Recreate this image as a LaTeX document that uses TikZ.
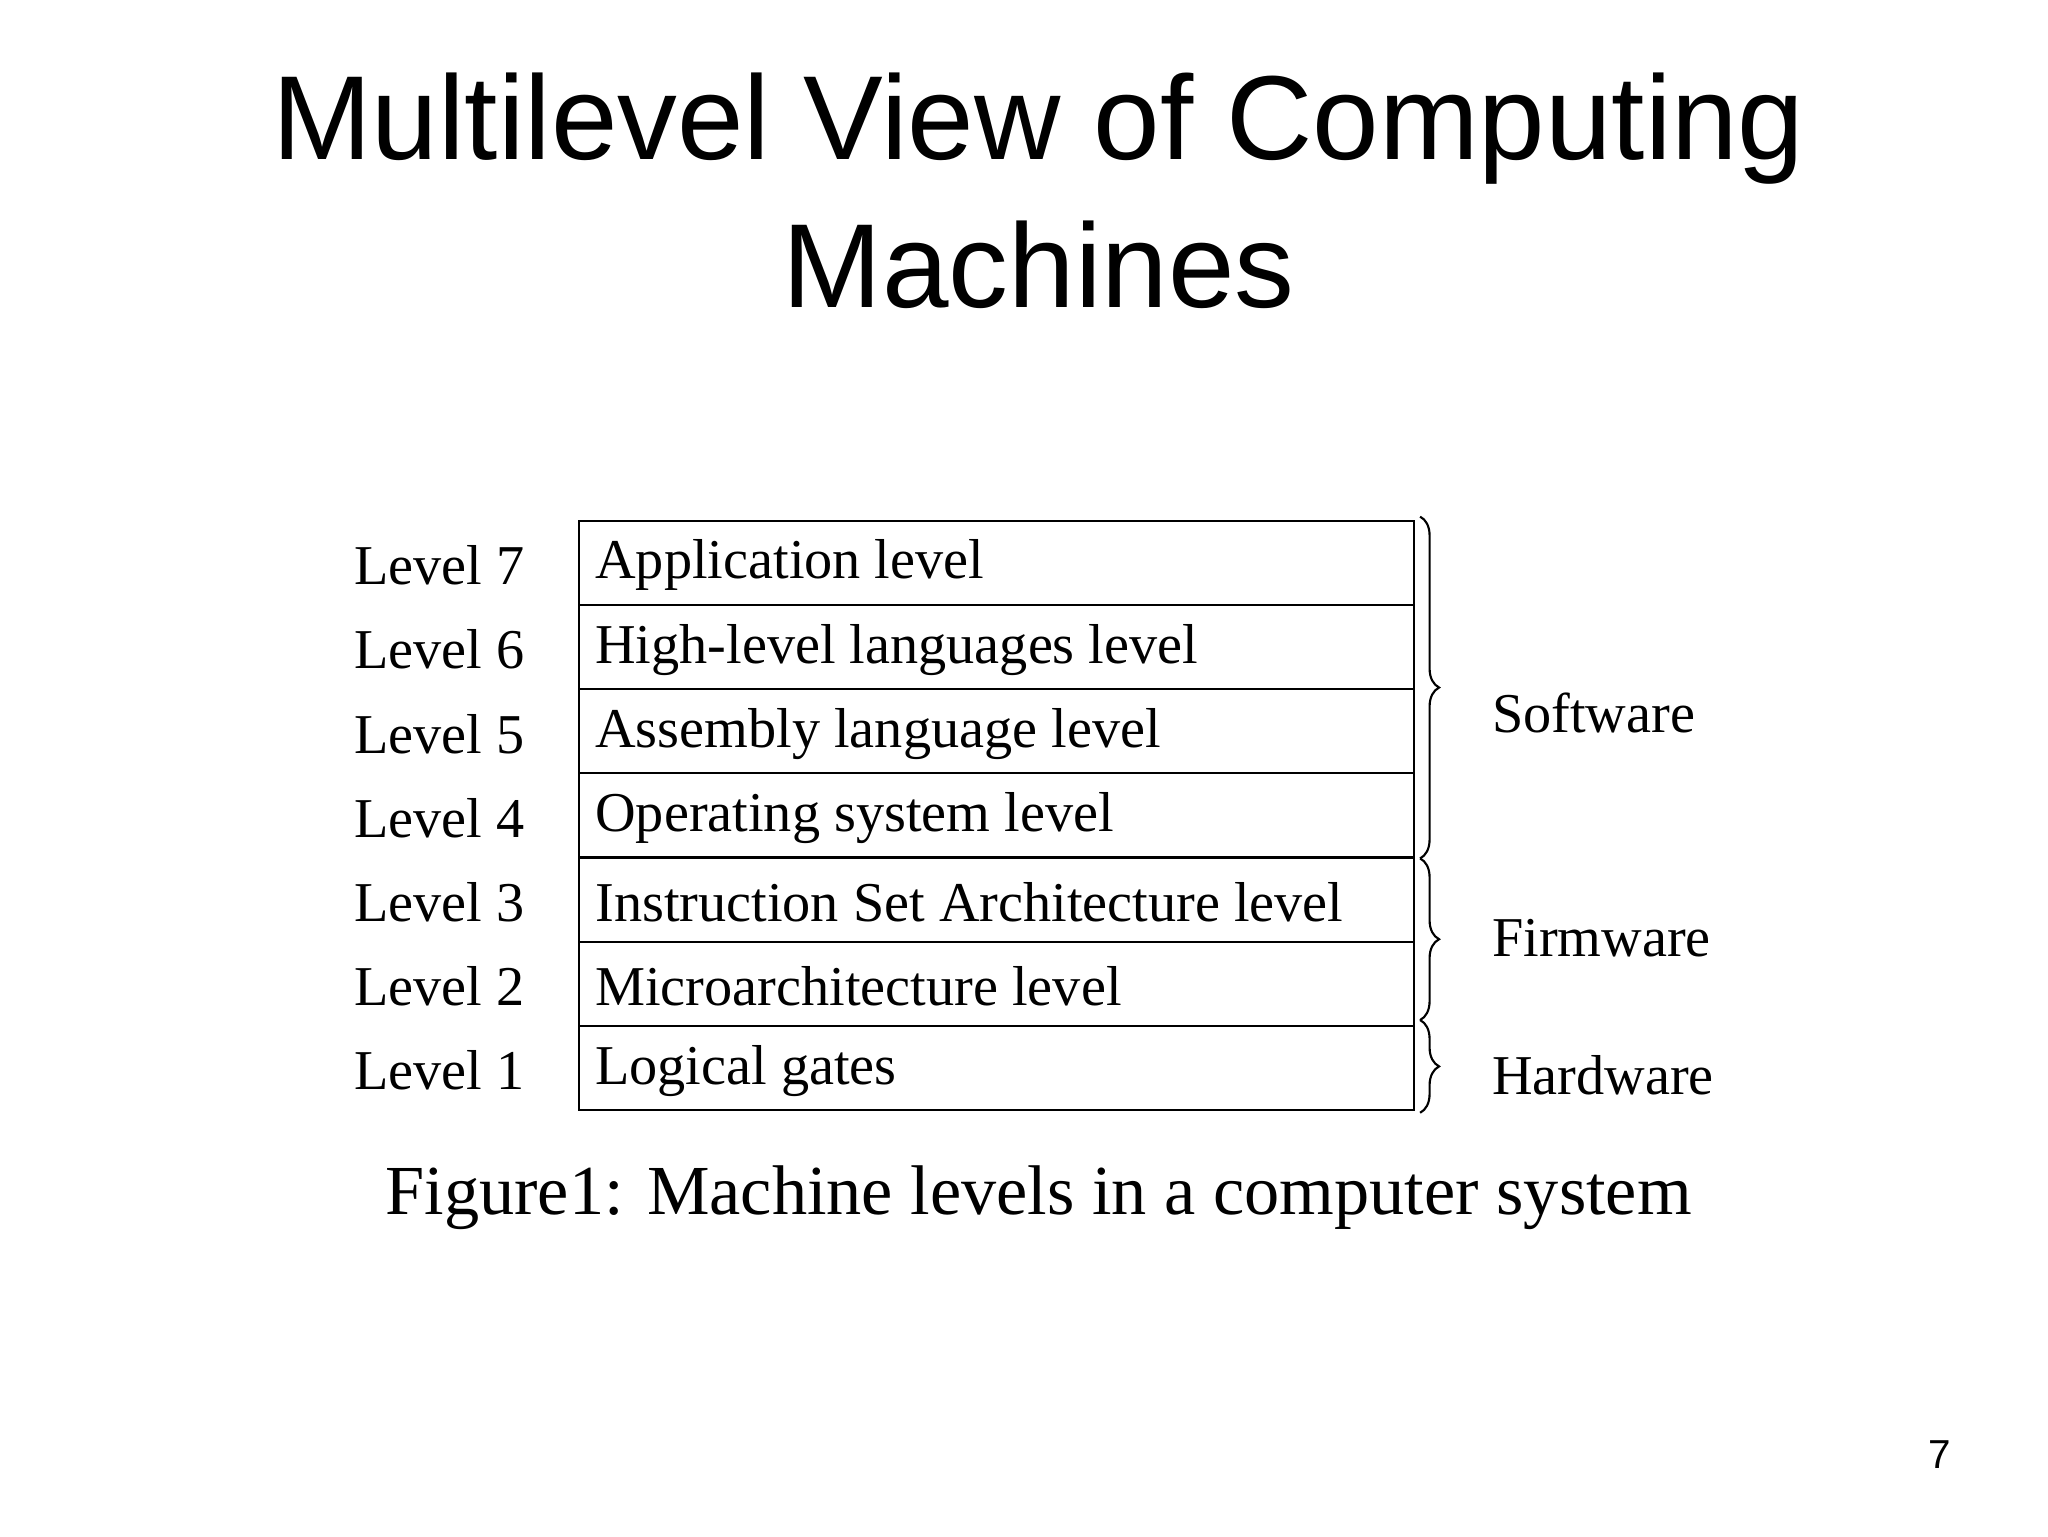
\documentclass[tikz,border=0pt]{standalone}
\usepackage{fontspec}
\setmainfont{Liberation Serif}
\newfontfamily\arialf{Liberation Sans}
\usetikzlibrary{decorations.pathreplacing}
\begin{document}
\begin{tikzpicture}[x=0.013247cm,y=-0.013247cm,
  rowbox/.style={draw,line width=0.6pt,minimum width=8.346cm,minimum height=0.8425cm,inner sep=0pt,font=\fontsize{16}{18}\selectfont},
  lvl/.style={anchor=west,font=\fontsize{16}{18}\selectfont},
  rtxt/.style={anchor=west,font=\fontsize{16}{18}\selectfont},
  brc/.style={decorate,decoration={brace,amplitude=12pt*0.45},line width=0.6pt}]
\useasboundingbox (0,0) rectangle (1546,1160);
\node[font=\arialf\fontsize{34}{40}\selectfont] (t1) at (784,97) {Multilevel View of Computing};
\node[font=\arialf\fontsize{34}{40}\selectfont] (t2) at (784,200) {Machines};
\foreach \i/\lab/\txt in {7/1/Application level,6/2/High-level languages level,5/3/Assembly language level,4/4/Operating system level,3/5/Instruction Set Architecture level,2/6/Microarchitecture level,1/7/Logical gates}{
  \node[rowbox] (r\i) at (752,{393+63.57*(\lab-0.5)}) {};
  \node[rtxt] (x\i) at (440,{393+63.57*(\lab-0.5)+2}) {\txt};
  \node[lvl] (l\i) at (258,{393+63.57*(\lab-0.5)+2}) {Level \i};
}
\coordinate (s1) at (1072,390);
\coordinate (s2) at (1072,648);
\coordinate (f2) at (1072,770);
\coordinate (h2) at (1072,840);
\draw[brc] (s1) -- (s2);
\draw[brc] (s2) -- (f2);
\draw[brc] (f2) -- (h2);
\node[rtxt] (sw) at (1117,538) {Software};
\node[rtxt] (fw) at (1117,708) {Firmware};
\node[rtxt] (hw) at (1117,812) {Hardware};
\node[font=\fontsize{20}{24}\selectfont] (cap) at (784,904) {Figure1: Machine levels in a computer system};
\node[font=\arialf\fontsize{11.5}{13}\selectfont] (pg) at (1464,1098) {7};
\end{tikzpicture}
\end{document}
